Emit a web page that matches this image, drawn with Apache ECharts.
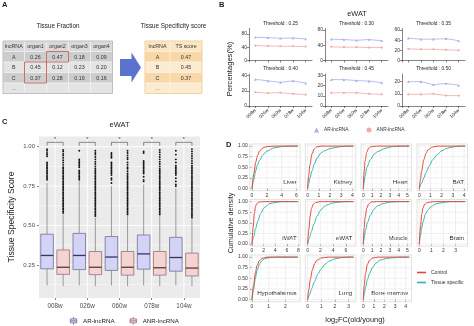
<!DOCTYPE html>
<html>
<head>
<meta charset="utf-8">
<title>eWAT lncRNA tissue specificity</title>
<script src="https://cdn.jsdelivr.net/npm/echarts@6.0.0/dist/echarts.min.js"></script>
<style>
  html, body { margin: 0; padding: 0; background: #ffffff; }
  #chart { width: 474px; height: 326px; }
</style>
</head>
<body>
<div id="chart"></div>
<script>
// ---------------- data ----------------
// A: toy example, tissue fractions of three lncRNAs and their TS score
const organs = ['organ1', 'organ2', 'organ3', 'organ4'];
const exampleIds = ['A', 'B', 'C'];
const tissueFraction = [
  [0.26, 0.47, 0.18, 0.09],
  [0.45, 0.12, 0.23, 0.20],
  [0.37, 0.28, 0.19, 0.16]
];
const tsScore = [0.47, 0.45, 0.37];

// B: percentage of tissue-specific lncRNAs per age, for each TS threshold
const ages = ['008w', '026w', '060w', '078w', '104w'];
const thresholds = ['0.25', '0.30', '0.35', '0.40', '0.45', '0.50'];
const pctAR = [
  [70, 69, 67, 68, 65],
  [56, 55, 53, 55, 52],
  [44, 42, 42, 43, 39],
  [35, 33, 31, 33, 30],
  [26, 26, 25, 24.5, 23],
  [20, 20, 17.5, 18.5, 17]
];
const pctANR = [
  [45, 44, 43, 43, 42],
  [36, 35, 35, 34, 34],
  [23, 22, 22, 21, 20],
  [18, 17, 17.5, 16, 15],
  [13, 13, 13, 12, 11.5],
  [9.5, 9.5, 10, 8.5, 8.5]
];
const pctTicks = [[0, 40, 80], [0, 40, 80], [0, 20, 40, 60], [0, 20, 40], [0, 10, 20, 30], [0, 10, 20]];

// C: TS score boxes per age: [lower whisker, Q1, median, Q3, upper whisker]
const boxAR = [
  [0.12, 0.225, 0.31, 0.445, 0.77],
  [0.12, 0.22, 0.31, 0.45, 0.78],
  [0.12, 0.215, 0.30, 0.43, 0.75],
  [0.12, 0.223, 0.32, 0.44, 0.76],
  [0.12, 0.21, 0.297, 0.425, 0.735]
];
const boxANR = [
  [0.115, 0.19, 0.235, 0.345, 0.57],
  [0.115, 0.188, 0.235, 0.335, 0.55],
  [0.115, 0.185, 0.235, 0.335, 0.56],
  [0.115, 0.185, 0.232, 0.335, 0.56],
  [0.115, 0.18, 0.23, 0.325, 0.54]
];
const outAR = [
  [0.985, 0.975, 0.96, 0.95, 0.94, 0.90, 0.89, 0.88, 0.87, 0.86, 0.85, 0.84, 0.83, 0.82, 0.81, 0.80, 0.79],
  [0.975, 0.92, 0.91, 0.90, 0.89, 0.88, 0.87, 0.85, 0.84, 0.83, 0.82, 0.81, 0.80, 0.79],
  [0.96, 0.95, 0.94, 0.93, 0.90, 0.89, 0.88, 0.87, 0.86, 0.85, 0.84, 0.83, 0.82, 0.80, 0.79, 0.77],
  [0.97, 0.96, 0.91, 0.90, 0.89, 0.88, 0.87, 0.86, 0.85, 0.84, 0.83, 0.81, 0.79, 0.78],
  [0.975, 0.95, 0.92, 0.90, 0.88, 0.87, 0.86, 0.85, 0.84, 0.83, 0.82, 0.80, 0.78, 0.76, 0.75]
];
const outANR = [
  [0.98, 0.97, 0.955, 0.945, 0.93, 0.915, 0.90, 0.885, 0.87, 0.86, 0.85, 0.84, 0.83, 0.82, 0.81, 0.80, 0.79, 0.78, 0.77, 0.76, 0.75, 0.74, 0.73, 0.72, 0.71, 0.70, 0.69, 0.68, 0.67, 0.66, 0.65, 0.64, 0.63, 0.62, 0.61, 0.60, 0.59, 0.58],
  [0.975, 0.96, 0.95, 0.935, 0.92, 0.905, 0.89, 0.875, 0.86, 0.85, 0.84, 0.83, 0.82, 0.81, 0.80, 0.79, 0.78, 0.77, 0.76, 0.75, 0.74, 0.73, 0.72, 0.71, 0.70, 0.69, 0.68, 0.67, 0.66, 0.65, 0.64, 0.63, 0.62, 0.61, 0.60, 0.59, 0.58, 0.57, 0.56],
  [0.975, 0.96, 0.945, 0.93, 0.92, 0.90, 0.885, 0.87, 0.86, 0.845, 0.83, 0.82, 0.81, 0.80, 0.79, 0.78, 0.77, 0.76, 0.75, 0.74, 0.73, 0.72, 0.71, 0.70, 0.69, 0.68, 0.67, 0.66, 0.65, 0.64, 0.63, 0.62, 0.61, 0.60, 0.59, 0.58, 0.57],
  [0.98, 0.965, 0.95, 0.935, 0.92, 0.905, 0.89, 0.875, 0.86, 0.85, 0.84, 0.83, 0.82, 0.81, 0.80, 0.79, 0.78, 0.77, 0.76, 0.75, 0.74, 0.73, 0.72, 0.71, 0.70, 0.69, 0.68, 0.67, 0.66, 0.65, 0.64, 0.63, 0.62, 0.61, 0.60, 0.59, 0.58, 0.57],
  [0.985, 0.97, 0.955, 0.94, 0.925, 0.91, 0.895, 0.88, 0.87, 0.86, 0.85, 0.84, 0.83, 0.82, 0.81, 0.80, 0.79, 0.78, 0.77, 0.76, 0.75, 0.74, 0.73, 0.72, 0.71, 0.70, 0.69, 0.68, 0.67, 0.66, 0.65, 0.64, 0.63, 0.62, 0.61, 0.60, 0.59, 0.58, 0.57, 0.56, 0.55]
];
const sigMarks = ['*', '*', '*', '*', '*'];

// D: cumulative density of log2FC(old/young), [x, F(x)]
const tissues = ['Liver', 'Kidney', 'Heart', 'BAT', 'iWAT', 'eWAT', 'Muscle', 'Brain', 'Hypothalamus', 'Lung', 'Bone marrow'];
const cdfControl = [
  [[0, 0], [0.25, 0.35], [0.5, 0.62], [0.75, 0.78], [1, 0.88], [1.5, 0.96], [2, 0.99], [3, 1], [6.2, 1]],
  [[0, 0], [0.1, 0.3], [0.2, 0.55], [0.4, 0.82], [0.6, 0.94], [0.8, 0.98], [1.2, 1], [4.1, 1]],
  [[0, 0], [0.1, 0.4], [0.2, 0.65], [0.4, 0.86], [0.6, 0.95], [0.9, 0.99], [1.5, 1], [5.2, 1]],
  [[0, 0], [0.1, 0.2], [0.2, 0.4], [0.4, 0.68], [0.6, 0.83], [0.8, 0.92], [1.2, 0.98], [1.6, 1], [4.1, 1]],
  [[0, 0], [0.2, 0.4], [0.4, 0.72], [0.6, 0.88], [0.8, 0.95], [1.2, 0.99], [2, 1], [7.9, 1]],
  [[0, 0], [0.2, 0.35], [0.4, 0.65], [0.6, 0.84], [0.9, 0.94], [1.3, 0.98], [2, 1], [7.2, 1]],
  [[0, 0], [0.1, 0.38], [0.2, 0.62], [0.4, 0.85], [0.6, 0.94], [0.9, 0.99], [1.5, 1], [5.2, 1]],
  [[0, 0], [0.1, 0.42], [0.2, 0.7], [0.3, 0.85], [0.45, 0.94], [0.7, 0.98], [1.2, 1], [3.8, 1]],
  [[0, 0], [0.1, 0.35], [0.2, 0.62], [0.3, 0.8], [0.45, 0.92], [0.6, 0.97], [0.9, 1], [2.75, 1]],
  [[0, 0], [0.1, 0.25], [0.2, 0.48], [0.35, 0.7], [0.5, 0.84], [0.7, 0.93], [1, 0.98], [1.5, 1], [3.35, 1]],
  [[0, 0], [0.1, 0.35], [0.2, 0.6], [0.4, 0.84], [0.6, 0.93], [0.9, 0.98], [1.4, 1], [4.33, 1]]
];
const cdfSpecific = [
  [[0, 0], [0.25, 0.22], [0.5, 0.42], [0.75, 0.56], [1, 0.66], [1.5, 0.8], [2, 0.88], [3, 0.96], [4, 0.99], [5, 1], [6.2, 1]],
  [[0, 0], [0.1, 0.12], [0.2, 0.24], [0.4, 0.42], [0.6, 0.58], [0.85, 0.72], [1.2, 0.84], [1.5, 0.89], [2, 0.94], [2.5, 0.97], [3, 0.99], [3.5, 1], [4.1, 1]],
  [[0, 0], [0.1, 0.15], [0.2, 0.3], [0.4, 0.5], [0.8, 0.68], [1.2, 0.8], [1.6, 0.87], [2.5, 0.95], [3.4, 0.99], [4.2, 1], [5.2, 1]],
  [[0, 0], [0.2, 0.12], [0.4, 0.25], [0.6, 0.38], [0.9, 0.54], [1.2, 0.68], [1.6, 0.8], [2, 0.89], [2.5, 0.95], [3, 0.98], [3.5, 1], [4.1, 1]],
  [[0, 0], [0.3, 0.18], [0.6, 0.36], [1, 0.54], [1.5, 0.72], [2, 0.84], [2.5, 0.9], [3, 0.95], [4, 0.98], [5, 1], [7.9, 1]],
  [[0, 0], [0.3, 0.15], [0.6, 0.3], [1, 0.48], [1.5, 0.66], [2, 0.79], [2.5, 0.87], [3, 0.92], [4, 0.97], [5, 0.99], [6, 1], [7.2, 1]],
  [[0, 0], [0.1, 0.14], [0.25, 0.33], [0.5, 0.52], [0.8, 0.68], [1.2, 0.82], [1.6, 0.9], [2.2, 0.95], [3, 0.99], [4, 1], [5.2, 1]],
  [[0, 0], [0.1, 0.2], [0.2, 0.38], [0.3, 0.52], [0.5, 0.7], [0.7, 0.8], [1, 0.89], [1.4, 0.95], [2, 0.98], [2.5, 1], [3.8, 1]],
  [[0, 0], [0.1, 0.25], [0.2, 0.5], [0.3, 0.68], [0.45, 0.84], [0.6, 0.92], [0.8, 0.97], [1.1, 0.99], [1.5, 1], [2.75, 1]],
  [[0, 0], [0.15, 0.12], [0.3, 0.26], [0.5, 0.42], [0.75, 0.6], [1, 0.73], [1.3, 0.84], [1.6, 0.91], [2, 0.96], [2.5, 0.99], [3, 1], [3.35, 1]],
  [[0, 0], [0.1, 0.14], [0.2, 0.28], [0.4, 0.48], [0.6, 0.62], [0.9, 0.77], [1.2, 0.86], [1.6, 0.93], [2.2, 0.97], [3, 0.99], [3.6, 1], [4.33, 1]]
];
const cdfTicks = [
  [0, 2, 4, 6], [0, 1, 2, 3, 4], [0, 1, 2, 3, 4, 5], [0, 1, 2, 3, 4],
  [0, 2, 4, 6, 8], [0, 2, 4, 6], [0, 1, 2, 3, 4, 5], [0, 1, 2, 3],
  [0, 1, 2], [0, 1, 2, 3], [0, 1, 2, 3, 4]
];
const densityTicks = [0, 0.25, 0.5, 0.75, 1];
const scoreTicks = [0.25, 0.5, 0.75, 1];

// ---------------- drawing ----------------
const FONT = '"Liberation Sans", Arial, Helvetica, sans-serif';
const INK = '#333333';
const AR_LINE = '#acacf0', ANR_LINE = '#f1a9a9';
const RED = '#e2473f', TEAL = '#33b6ae';

const grids = [], xAxes = [], yAxes = [], series = [], graphics = [];

function txt(text, x, y, size, style, extra) {
  return Object.assign({
    type: 'text', x: x, y: y, silent: true,
    style: Object.assign({
      text: text, fontSize: size, fontFamily: FONT, fill: '#222',
      align: 'center', verticalAlign: 'middle'
    }, style || {})
  }, extra || {});
}

// custom series that paints panel grid lines through the axis scales
function gridLines(gi, hLines, vLines, anchor, major, minor, majorW, minorW) {
  const data = [];
  hLines.forEach(function (h) { data.push([anchor[0], h[0], 0, h[1]]); });
  vLines.forEach(function (v) { data.push([v[0], anchor[1], 1, v[1]]); });
  return {
    type: 'custom', xAxisIndex: gi, yAxisIndex: gi, z: 1, silent: true, data: data,
    renderItem: function (params, api) {
      const cs = params.coordSys;
      const p = api.coord([api.value(0), api.value(1)]);
      const isMinor = api.value(3) === 1;
      const shape = api.value(2) === 0
        ? { x1: cs.x, y1: p[1], x2: cs.x + cs.width, y2: p[1] }
        : { x1: p[0], y1: cs.y, x2: p[0], y2: cs.y + cs.height };
      return { type: 'line', shape: shape, silent: true,
        style: { stroke: isMinor ? minor : major, lineWidth: isMinor ? minorW : majorW } };
    }
  };
}

// ----- panel A -----
graphics.push(txt('A', 2, 5, 7.5, { fontWeight: 'bold', align: 'left' }));
graphics.push(txt('Tissue Fraction', 58, 26, 6.3));
graphics.push(txt('Tissue Specificity score', 173.5, 26, 6.3));

const tblTop = 41, rowH = 10.5;
function drawTable(x0, colW, rows, fills, lineCol, borderCol) {
  let y = tblTop;
  rows.forEach(function (row, r) {
    let x = x0;
    row.forEach(function (cell, c) {
      graphics.push({ type: 'rect', silent: true, shape: { x: x, y: y, width: colW[c], height: rowH },
        style: { fill: fills[r], stroke: lineCol, lineWidth: 0.6 } });
      if (cell !== '') graphics.push(txt(cell, x + colW[c] / 2, y + rowH / 2 + 0.3, 5.3, { fill: '#333' }));
      x += colW[c];
    });
    y += rowH;
  });
  const totalW = colW.reduce(function (a, b) { return a + b; }, 0);
  graphics.push({ type: 'rect', silent: true, shape: { x: x0, y: tblTop, width: totalW, height: rowH * rows.length },
    style: { fill: 'none', stroke: borderCol, lineWidth: 0.7 } });
}

const fracX0 = 3, fracW = [21.5, 22, 22, 22, 22];
const fracRows = [['lncRNA'].concat(organs)]
  .concat(exampleIds.map(function (id, i) { return [id].concat(tissueFraction[i].map(function (v) { return v.toFixed(2); })); }))
  .concat([['...', '', '', '', '']]);
drawTable(fracX0, fracW, fracRows, ['#d9d9d9', '#cdcdcd', '#e4e4e4', '#cdcdcd', '#e4e4e4'], '#f4f4f4', '#a9a9a9');

// red frames around the largest fraction of every lncRNA (runs in one column merged)
const maxCol = tissueFraction.map(function (row) { return row.indexOf(Math.max.apply(null, row)); });
let runStart = 0;
for (let i = 1; i <= maxCol.length; i++) {
  if (i === maxCol.length || maxCol[i] !== maxCol[runStart]) {
    const c = maxCol[runStart] + 1;
    let cx = fracX0;
    for (let k = 0; k < c; k++) cx += fracW[k];
    graphics.push({ type: 'rect', silent: true, z: 10,
      shape: { x: cx, y: tblTop + rowH * (runStart + 1), width: fracW[c], height: rowH * (i - runStart) },
      style: { fill: 'none', stroke: '#c0504d', lineWidth: 0.8 } });
    runStart = i;
  }
}

// arrow between the two tables
graphics.push({ type: 'polygon', silent: true,
  shape: { points: [[120, 59], [131.5, 59], [131.5, 52.5], [141, 67.5], [131.5, 82.5], [131.5, 76], [120, 76]] },
  style: { fill: '#5b73cf' } });

const tsRows = [['lncRNA', 'TS score']]
  .concat(exampleIds.map(function (id, i) { return [id, tsScore[i].toFixed(2)]; }))
  .concat([['...', '']]);
drawTable(145, [25, 32], tsRows, ['#fbe5c3', '#f8d8a8', '#fcebd3', '#f8d8a8', '#fcebd3'], '#fdf4e6', '#f0c27c');

// ----- panel B -----
graphics.push(txt('B', 219, 5, 7.5, { fontWeight: 'bold', align: 'left' }));
graphics.push(txt('eWAT', 357, 14, 7.3));
graphics.push(txt('Percentages(%)', 230, 69, 7.6, { fill: '#222' }, { rotation: Math.PI / 2 }));

const bLeft = [249, 325, 402], bTop = [28.5, 74], bW = 63, bH = 33.5;
const bRange = [[-4.6, 96.6], [-4, 84], [-3, 63], [-2, 42], [-1.5, 31.5], [-1.25, 26.25]];
thresholds.forEach(function (t, k) {
  const row = Math.floor(k / 3), col = k % 3;
  grids.push({ left: bLeft[col], top: bTop[row], width: bW, height: bH, outerBoundsMode: 'none' });
  xAxes.push({
    type: 'category', gridIndex: k, data: ages, boundaryGap: true,
    axisLine: { show: true, lineStyle: { color: INK, width: 0.6 } },
    axisTick: { show: true, alignWithLabel: true, length: 2, lineStyle: { color: INK, width: 0.6 } },
    axisLabel: { show: row === 1, rotate: 45, interval: 0, fontSize: 4.8, color: INK, margin: 2, fontFamily: FONT },
    splitLine: { show: false }
  });
  yAxes.push({
    type: 'value', gridIndex: k, min: bRange[k][0], max: bRange[k][1],
    axisLine: { show: true, lineStyle: { color: INK, width: 0.6 } },
    axisTick: { show: true, customValues: pctTicks[k], length: 2, lineStyle: { color: INK, width: 0.6 } },
    axisLabel: { customValues: pctTicks[k], fontSize: 5, color: INK, margin: 2, fontFamily: FONT },
    splitLine: { show: false }
  });
  series.push({ type: 'line', name: 'AR-lncRNA', xAxisIndex: k, yAxisIndex: k, data: pctAR[k],
    symbol: 'triangle', symbolSize: 2.6, showSymbol: true,
    lineStyle: { color: AR_LINE, width: 0.8 }, itemStyle: { color: AR_LINE } });
  series.push({ type: 'line', name: 'ANR-lncRNA', xAxisIndex: k, yAxisIndex: k, data: pctANR[k],
    symbol: 'circle', symbolSize: 2.2, showSymbol: true,
    lineStyle: { color: ANR_LINE, width: 0.8 }, itemStyle: { color: ANR_LINE } });
  graphics.push(txt('Threshold : ' + t, bLeft[col] + bW / 2, bTop[row] - 5, 4.8));
});

// ----- panel C -----
const cGi = 6;
graphics.push(txt('C', 2, 122, 7.5, { fontWeight: 'bold', align: 'left' }));
graphics.push(txt('eWAT', 119.5, 125, 7.5));
graphics.push(txt('Tissue Specificity Score', 12, 217, 8.6, {}, { rotation: Math.PI / 2 }));

grids.push({ left: 39, top: 136.5, width: 161, height: 161.5, show: true,
  backgroundColor: '#ebebeb', borderWidth: 0, outerBoundsMode: 'none' });
xAxes.push({
  type: 'category', gridIndex: cGi, data: ages, boundaryGap: true,
  axisLine: { show: false },
  axisTick: { show: true, alignWithLabel: true, length: 2, lineStyle: { color: INK, width: 0.6 } },
  axisLabel: { fontSize: 6.3, color: '#4d4d4d', margin: 5.5, fontFamily: FONT },
  splitLine: { show: false }
});
yAxes.push({
  type: 'value', gridIndex: cGi, min: 0.04, max: 1.065,
  axisLine: { show: false },
  axisTick: { show: true, customValues: scoreTicks, length: 2, lineStyle: { color: INK, width: 0.6 } },
  axisLabel: { customValues: scoreTicks, formatter: function (v) { return v.toFixed(2); },
    fontSize: 6, color: '#4d4d4d', margin: 4, fontFamily: FONT },
  splitLine: { show: false }
});
const cH = [];
scoreTicks.forEach(function (v) { cH.push([v, 0]); cH.push([v - 0.125, 1]); });
series.push(gridLines(cGi, cH, ages.map(function (a, i) { return [i, 0]; }), [0, 0.5], '#ffffff', '#ffffff', 0.9, 0.45));

function boxSeries(name, boxes, side, fill, stroke, median) {
  return {
    type: 'custom', name: name, xAxisIndex: cGi, yAxisIndex: cGi, z: 3, silent: true,
    data: boxes.map(function (b, i) { return [i].concat(b); }),
    renderItem: function (params, api) {
      const c = api.value(0);
      const band = api.size([1, 0])[0];
      const xc = api.coord([c, api.value(3)])[0] + side * band * 0.25;
      const w = band * 0.39;
      const y = function (k) { return api.coord([c, api.value(k)])[1]; };
      const whisker = { stroke: '#777777', lineWidth: 0.7 };
      return { type: 'group', children: [
        { type: 'line', shape: { x1: xc, y1: y(1), x2: xc, y2: y(2) }, style: whisker },
        { type: 'line', shape: { x1: xc, y1: y(4), x2: xc, y2: y(5) }, style: whisker },
        { type: 'rect', shape: { x: xc - w / 2, y: y(4), width: w, height: y(2) - y(4) },
          style: { fill: fill, stroke: stroke, lineWidth: 0.7 } },
        { type: 'line', shape: { x1: xc - w / 2, y1: y(3), x2: xc + w / 2, y2: y(3) },
          style: { stroke: median, lineWidth: 1.3 } }
      ] };
    }
  };
}
series.push(boxSeries('AR-lncRNA', boxAR, -1, '#d3d3f6', '#62628e', '#34346c'));
series.push(boxSeries('ANR-lncRNA', boxANR, 1, '#f4d3d3', '#8e6262', '#6c3434'));

const outlierData = [];
outAR.forEach(function (vals, i) { vals.forEach(function (v) { outlierData.push([i, v, -1]); }); });
outANR.forEach(function (vals, i) { vals.forEach(function (v) { outlierData.push([i, v, 1]); }); });
series.push({
  type: 'custom', xAxisIndex: cGi, yAxisIndex: cGi, z: 4, silent: true, data: outlierData,
  renderItem: function (params, api) {
    const band = api.size([1, 0])[0];
    const p = api.coord([api.value(0), api.value(1)]);
    return { type: 'circle', shape: { cx: p[0] + api.value(2) * band * 0.25, cy: p[1], r: 0.95 },
      style: { fill: '#111111' } };
  }
});

// significance brackets between the two boxes of every age
series.push({
  type: 'custom', xAxisIndex: cGi, yAxisIndex: cGi, z: 4, silent: true,
  data: sigMarks.map(function (s, i) { return [i, 1.0]; }),
  renderItem: function (params, api) {
    const i = api.value(0);
    const band = api.size([1, 0])[0];
    const xc = api.coord([i, 1])[0];
    const xl = xc - band * 0.25, xr = xc + band * 0.25;
    const yLow = api.coord([i, 1.006])[1], yTop = api.coord([i, 1.028])[1], yStar = api.coord([i, 1.05])[1];
    return { type: 'group', children: [
      { type: 'polyline', shape: { points: [[xl, yLow], [xl, yTop], [xr, yTop], [xr, yLow]] },
        style: { stroke: '#444', lineWidth: 0.6, fill: null } },
      { type: 'text', x: xc, y: yStar + 1, style: { text: sigMarks[params.dataIndex], fontSize: 5.5,
        fontFamily: FONT, fill: '#333', align: 'center', verticalAlign: 'middle' } }
    ] };
  }
});

// ----- panel D -----
graphics.push(txt('D', 226, 145, 7.5, { fontWeight: 'bold', align: 'left' }));
graphics.push(txt('Cumulative density', 231, 223, 7.2, {}, { rotation: Math.PI / 2 }));
graphics.push(txt('log{s|2}FC(old/young)', 355, 319.5, 7.4,
  { rich: { s: { fontSize: 5, fontFamily: FONT, fill: '#222', padding: [5, 0, 0, 0] } } }));

const dLeft = [249.7, 305.3, 361, 417], dTop = [144, 199.5, 255], dW = 50.5, dH = 46.7;
tissues.forEach(function (name, j) {
  const gi = 7 + j, row = Math.floor(j / 4), col = j % 4;
  const last = function (arr) { return arr[arr.length - 1][0]; };
  const xmax = Math.max(last(cdfControl[j]), last(cdfSpecific[j]));
  grids.push({ left: dLeft[col], top: dTop[row], width: dW, height: dH, show: true,
    backgroundColor: '#ffffff', borderColor: '#cfcfcf', borderWidth: 0.6, outerBoundsMode: 'none' });
  xAxes.push({
    type: 'value', gridIndex: gi, min: -0.05 * xmax, max: 1.05 * xmax,
    axisLine: { show: false },
    axisTick: { show: true, customValues: cdfTicks[j], length: 2, lineStyle: { color: INK, width: 0.6 } },
    axisLabel: { customValues: cdfTicks[j], fontSize: 5, color: INK, margin: 2, fontFamily: FONT },
    splitLine: { show: false }
  });
  yAxes.push({
    type: 'value', gridIndex: gi, min: -0.05, max: 1.05,
    axisLine: { show: false },
    axisTick: { show: col === 0, customValues: densityTicks, length: 2, lineStyle: { color: INK, width: 0.6 } },
    axisLabel: { show: col === 0, customValues: densityTicks, formatter: function (v) { return v.toFixed(2); },
      fontSize: 5, color: INK, margin: 2, fontFamily: FONT },
    splitLine: { show: false }
  });
  const hL = [];
  densityTicks.forEach(function (v, i) { hL.push([v, 0]); if (i > 0) hL.push([v - 0.125, 1]); });
  const vL = [];
  cdfTicks[j].forEach(function (v, i, a) { vL.push([v, 0]); if (i > 0) vL.push([(v + a[i - 1]) / 2, 1]); });
  series.push(gridLines(gi, hL, vL, [0, 0.5], '#e6e6e6', '#f2f2f2', 0.6, 0.4));
  series.push({ type: 'line', name: 'Tissue specific', xAxisIndex: gi, yAxisIndex: gi, data: cdfSpecific[j],
    showSymbol: false, smooth: 0.3, smoothMonotone: 'x', lineStyle: { color: TEAL, width: 1 }, itemStyle: { color: TEAL } });
  series.push({ type: 'line', name: 'Control', xAxisIndex: gi, yAxisIndex: gi, data: cdfControl[j],
    showSymbol: false, smooth: 0.3, smoothMonotone: 'x', lineStyle: { color: RED, width: 1 }, itemStyle: { color: RED } });
  graphics.push(txt(name, dLeft[col] + dW - 3.5, dTop[row] + dH - 8, 6.2, { align: 'right', fill: '#111' }));
});

const boxIcon = 'path://M5,0V2.5M5,7.5V10M1,2.5H9V7.5H1ZM1,5H9';
const option = {
  animation: false,
  backgroundColor: '#ffffff',
  textStyle: { fontFamily: FONT },
  grid: grids,
  xAxis: xAxes,
  yAxis: yAxes,
  legend: [
    { selectedMode: false, padding: 0, left: 314, top: 127.5, itemWidth: 5, itemHeight: 5, itemGap: 18,
      textStyle: { fontSize: 4.8, color: INK, fontFamily: FONT },
      data: [
        { name: 'AR-lncRNA', icon: 'triangle', itemStyle: { color: AR_LINE, borderWidth: 0 } },
        { name: 'ANR-lncRNA', icon: 'circle', itemStyle: { color: ANR_LINE, borderWidth: 0 } }
      ] },
    { selectedMode: false, padding: 0, left: 70, top: 316.5, itemWidth: 9, itemHeight: 8, itemGap: 15,
      textStyle: { fontSize: 6.2, color: '#222', fontFamily: FONT },
      data: [
        { name: 'AR-lncRNA', icon: boxIcon, itemStyle: { color: '#d3d3f6', borderColor: '#62628e', borderWidth: 0.7 } },
        { name: 'ANR-lncRNA', icon: boxIcon, itemStyle: { color: '#f4d3d3', borderColor: '#8e6262', borderWidth: 0.7 } }
      ] },
    { selectedMode: false, padding: 0, left: 417, top: 270, orient: 'vertical', itemWidth: 9, itemHeight: 1.6, itemGap: 5,
      textStyle: { fontSize: 5, color: INK, fontFamily: FONT },
      data: [
        { name: 'Control', icon: 'rect', itemStyle: { color: RED } },
        { name: 'Tissue specific', icon: 'rect', itemStyle: { color: TEAL } }
      ] }
  ],
  series: series,
  graphic: { elements: graphics }
};

const chart = echarts.init(document.getElementById('chart'), null, { renderer: 'canvas' });
chart.setOption(option);
</script>
</body>
</html>
